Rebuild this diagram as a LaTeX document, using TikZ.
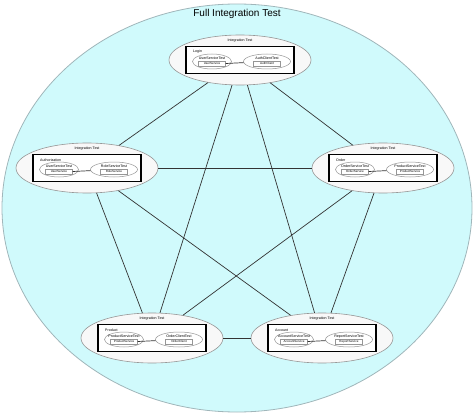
\documentclass[tikz,border=0pt]{standalone}
\usepackage{fontspec}
\setmainfont{Liberation Sans}
\usetikzlibrary{shapes.geometric}

\definecolor{suitebg}{RGB}{208,250,252}
\definecolor{suiteline}{RGB}{160,182,186}
\definecolor{groupline}{RGB}{150,150,150}
\definecolor{groupbg}{RGB}{248,248,248}

\tikzset{
  suite/.style={draw=suiteline, fill=suitebg, ellipse, line width=0.8pt,
    minimum width=470pt, minimum height=408pt, inner sep=0pt},
  group/.style={draw=groupline, fill=groupbg, ellipse, line width=0.6pt,
    minimum width=142pt, minimum height=50pt, inner sep=0pt},
  module/.style={draw=black, fill=white, line width=1.2pt,
    minimum width=108pt, minimum height=27pt, inner sep=0pt},
  testcase/.style={draw=groupline, fill=white, ellipse, line width=0.5pt,
    minimum height=15pt, inner sep=0pt},
  service/.style={draw=groupline, fill=white, line width=0.4pt,
    minimum width=27pt, minimum height=4.5pt, inner sep=0.3pt,
    font=\fontsize{3}{3}\selectfont},
  tinylabel/.style={inner sep=0pt, font=\fontsize{3.6}{4}\selectfont},
  link/.style={draw=black!80, line width=0.7pt},
}

\begin{document}
\begin{tikzpicture}[x=1pt, y=-1pt]
  \useasboundingbox (0,0) rectangle (474,420);
  \node[suite] (suite) at (237,208) {};
  \node[font=\fontsize{10}{12}\selectfont] (title) at (237,14) {Full Integration Test};

  % one cluster per module
  \foreach \grp/\cx/\cy/\mod/\ta/\sa/\tb/\sb in {
    login/240/60/Login/UserServiceTest/UserService/AuthClientTest/AuthClient,
    authz/87/168/Authorization/UserServiceTest/UserService/RoleServiceTest/RoleService,
    order/383/168/Order/OrderServiceTest/OrderService/ProductServiceTest/ProductService,
    product/152/338/Product/ProductServiceTest/ProductService/OrderClientTest/OrderClient,
    account/322/338/Account/AccountServiceTest/AccountService/ReportServiceTest/ReportService}
  {
    \node[group] (\grp) at (\cx,\cy) {};
    \node[tinylabel] (\grp-title) at (\cx,\cy-19) {Integration Test};
    \node[module] (\grp-box) at (\cx,\cy) {};
    \node[tinylabel, anchor=west] (\grp-name) at (\cx-47,\cy-8) {\mod};
    \node[testcase, minimum width=39pt] (\grp-a) at (\cx-28,\cy+1.5) {};
    \node[tinylabel] (\grp-at) at (\cx-28,\cy-1.5) {\ta};
    \node[service] (\grp-as) at (\cx-28,\cy+3.5) {\sa};
    \node[testcase, minimum width=47pt] (\grp-b) at (\cx+27,\cy+1.5) {};
    \node[tinylabel] (\grp-bt) at (\cx+27,\cy-1.5) {\tb};
    \node[service] (\grp-bs) at (\cx+27,\cy+3.5) {\sb};
    \draw[link] (\grp-as.east) -- (\grp-b);
  }

  % every cluster with every other
  \foreach \src/\dst in {login/authz, login/order, login/product, login/account,
    authz/order, authz/product, authz/account,
    order/product, order/account, product/account}
    \draw[link] (\src) -- (\dst);
\end{tikzpicture}
\end{document}
